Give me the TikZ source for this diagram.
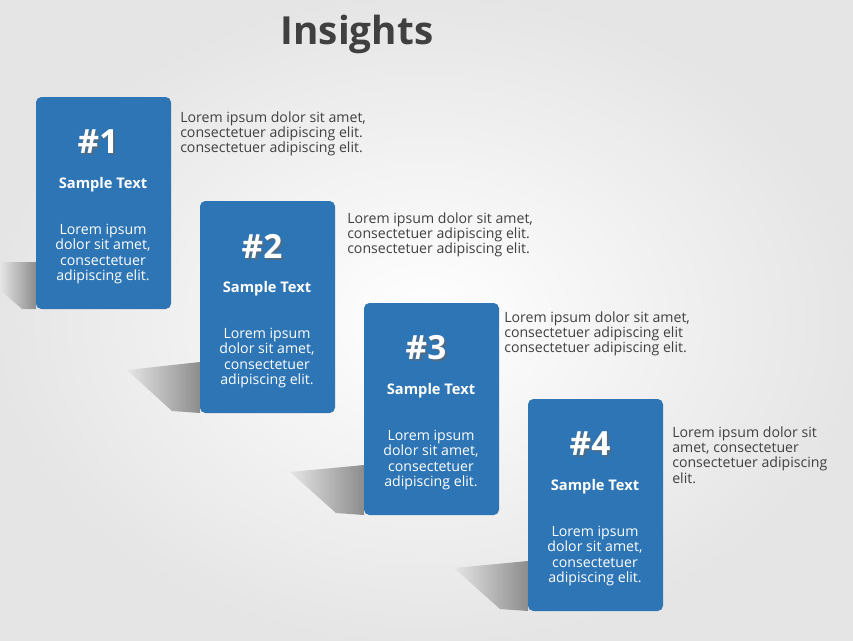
\documentclass[tikz,border=0pt]{standalone}
\usepackage{fontspec}
\setmainfont{Open Sans}
\definecolor{boxblue}{RGB}{46,117,182}
\definecolor{txtgray}{RGB}{64,64,64}
\tikzset{
  card/.style={fill=boxblue,rounded corners=4pt,draw=none},
  numtxt/.style={text=white,font=\bfseries\fontsize{25}{25}\selectfont},
  headtxt/.style={text=white,font=\bfseries\fontsize{11}{13}\selectfont},
  bodytxt/.style={text=white,font=\fontsize{10.6}{11.6}\selectfont,align=center},
  sidetxt/.style={text=txtgray,font=\fontsize{10.6}{11.6}\selectfont,align=left,anchor=north west,inner sep=0pt},
  shadow/.style={left color=black!10,right color=black!45}
}
\begin{document}
\begin{tikzpicture}[x=0.75pt,y=-0.75pt]
  \useasboundingbox (0,0) rectangle (853,640);
  \shade[inner color=white,outer color=black!10] (0,0) rectangle (853,640);

  \node[font=\bfseries\fontsize{29}{29}\selectfont,text=txtgray] (title) at (357,34) {Insights};

  % shadows
  \shade[shadow] (36,262) -- (36,309) -- (22,309) -- (0,290) -- (0,262) -- cycle;
  \shade[shadow] (200,362) -- (200,413) -- (172,411) -- (127,370) -- cycle;
  \shade[shadow] (364,465) -- (364,515) -- (336,513) -- (290,472) -- cycle;
  \shade[shadow] (528,561) -- (528,611) -- (500,609) -- (454,568) -- cycle;

  % cards
  \foreach \n/\x/\y in {1/36/97, 2/200/201, 3/364/303, 4/528/399} {
    \fill[card] (\x,\y) rectangle ++(135,212);
    \node[numtxt,text=black!60,opacity=0.6] at (\x+64,\y+47) {\#\n};
    \node[numtxt] (num\n) at (\x+62,\y+45) {\#\n};
    \node[headtxt] (head\n) at (\x+67,\y+88) {Sample Text};
    \node[bodytxt] (body\n) at (\x+67,\y+157) {Lorem ipsum\\dolor sit amet,\\consectetuer\\adipiscing elit.};
  }

  % side texts
  \node[sidetxt] (side1) at (180,111) {Lorem ipsum dolor sit amet,\\consectetuer adipiscing elit.\\consectetuer adipiscing elit.};
  \node[sidetxt] (side2) at (347,212) {Lorem ipsum dolor sit amet,\\consectetuer adipiscing elit.\\consectetuer adipiscing elit.};
  \node[sidetxt] (side3) at (504,311) {Lorem ipsum dolor sit amet,\\consectetuer adipiscing elit\\consectetuer adipiscing elit.};
  \node[sidetxt] (side4) at (672,426) {Lorem ipsum dolor sit\\amet, consectetuer\\consectetuer adipiscing\\elit.};
\end{tikzpicture}
\end{document}
